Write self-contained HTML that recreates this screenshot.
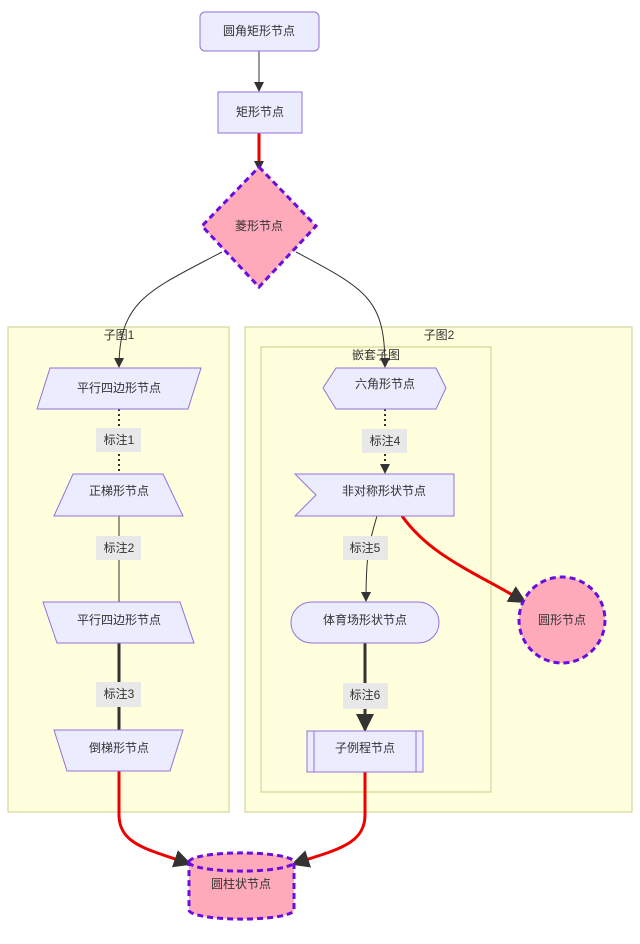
<!DOCTYPE html>
<html><head><meta charset="utf-8"><style>
body{margin:0;background:#fff}
svg text{font-family:"Liberation Sans","Noto Sans CJK SC",sans-serif;font-size:12px;fill:#333;text-anchor:middle;dominant-baseline:central}
</style></head><body>
<svg width="640" height="939" viewBox="0 0 640 939" xmlns="http://www.w3.org/2000/svg">
<defs>
<marker id="a" markerWidth="10" markerHeight="10" refX="9" refY="5" orient="auto" markerUnits="userSpaceOnUse"><path d="M0,0L10,5L0,10z" fill="#333"/></marker>
<marker id="b" markerWidth="18" markerHeight="18" refX="16" refY="9" orient="auto" markerUnits="userSpaceOnUse"><path d="M0,0L18,9L0,18z" fill="#333"/></marker>
</defs>
<!-- subgraphs -->
<rect x="8" y="327" width="221" height="485" fill="#ffffde" stroke="#c8cc8a"/>
<rect x="245" y="327" width="387" height="485" fill="#ffffde" stroke="#c8cc8a"/>
<rect x="261" y="347" width="230" height="445" fill="#ffffde" stroke="#c8cc8a"/>
<text x="119" y="335">子图1</text>
<text x="439" y="335">子图2</text>
<text x="376" y="355">嵌套子图</text>
<!-- edges -->
<path d="M259,51V91" stroke="#333" fill="none" marker-end="url(#a)"/>
<path d="M259,133V170" stroke="#e00" stroke-width="3" fill="none" marker-end="url(#a)"/>
<path d="M222,252C150,290 119,300 119,367" stroke="#333" fill="none" marker-end="url(#a)"/>
<path d="M296,252C368,290 385,300 385,367" stroke="#333" fill="none" marker-end="url(#a)"/>
<path d="M119,409V474" stroke="#333" stroke-dasharray="2,3" stroke-width="2" fill="none"/>
<path d="M119,516V602" stroke="#333" fill="none"/>
<path d="M119,643V730" stroke="#333" stroke-width="3" fill="none"/>
<path d="M385,409V473" stroke="#333" stroke-dasharray="2,3" stroke-width="2" fill="none" marker-end="url(#a)"/>
<path d="M377,516C370,540 366,550 366,601" stroke="#333" fill="none" marker-end="url(#a)"/>
<path d="M365,643V730" stroke="#333" stroke-width="3" fill="none" marker-end="url(#b)"/>
<path d="M402,516C430,555 470,570 525,602" stroke="#e00" stroke-width="3" fill="none" marker-end="url(#b)"/>
<path d="M119,771V815C119,845 150,850 190,864" stroke="#e00" stroke-width="3" fill="none" marker-end="url(#b)"/>
<path d="M365,772V815C365,845 335,850 293,864" stroke="#e00" stroke-width="3" fill="none" marker-end="url(#b)"/>
<!-- labels -->
<rect x="96" y="428" width="45" height="24" fill="#e8e8e8"/><text x="119" y="440">标注1</text>
<rect x="96" y="536" width="45" height="24" fill="#e8e8e8"/><text x="119" y="548">标注2</text>
<rect x="96" y="682" width="45" height="25" fill="#e8e8e8"/><text x="119" y="694">标注3</text>
<rect x="362" y="429" width="45" height="24" fill="#e8e8e8"/><text x="385" y="441">标注4</text>
<rect x="343" y="536" width="45" height="24" fill="#e8e8e8"/><text x="365" y="548">标注5</text>
<rect x="343" y="683" width="45" height="26" fill="#e8e8e8"/><text x="365" y="695">标注6</text>
<!-- nodes -->
<g fill="#ececff" stroke="#9370db">
<rect x="200" y="12" width="119" height="39" rx="5"/>
<rect x="218" y="92" width="84" height="41"/>
<polygon points="50,368 201,368 188,409 37,409"/>
<polygon points="73,474 163,474 183,516 54,516"/>
<polygon points="43,602 180,602 194,643 57,643"/>
<polygon points="54,730 183,730 170,771 67,771"/>
<polygon points="336,368 436,368 446,388 436,409 336,409 323,388"/>
<polygon points="295,474 454,474 454,516 295,516 316,495"/>
<rect x="291" y="602" width="148" height="41" rx="20.5"/>
<rect x="307" y="731" width="116" height="41"/>
<path d="M314,731V772M416,731V772" fill="none"/>
</g>
<polygon points="259,167 316,226 259,287 202,226" fill="#ffaabb" stroke="#6a0dde" stroke-width="3" stroke-dasharray="6,4"/>
<circle cx="562" cy="620" r="43" fill="#ffaabb" stroke="#6a0dde" stroke-width="3" stroke-dasharray="6,4"/>
<path d="M189,862A52,9 0 0 1 294,862V910A52,9 0 0 1 189,910Z" fill="#ffaabb" stroke="#6a0dde" stroke-width="3" stroke-dasharray="6,4"/>
<path d="M189,862A52,9 0 0 0 294,862" fill="none" stroke="#6a0dde" stroke-width="3" stroke-dasharray="6,4"/>
<text x="259" y="31">圆角矩形节点</text>
<text x="260" y="112">矩形节点</text>
<text x="259" y="226">菱形节点</text>
<text x="119" y="388">平行四边形节点</text>
<text x="119" y="491">正梯形节点</text>
<text x="119" y="620">平行四边形节点</text>
<text x="119" y="748">倒梯形节点</text>
<text x="385" y="384">六角形节点</text>
<text x="384" y="491">非对称形状节点</text>
<text x="365" y="620">体育场形状节点</text>
<text x="365" y="748">子例程节点</text>
<text x="562" y="620">圆形节点</text>
<text x="241" y="884">圆柱状节点</text>
</svg>
</body></html>
